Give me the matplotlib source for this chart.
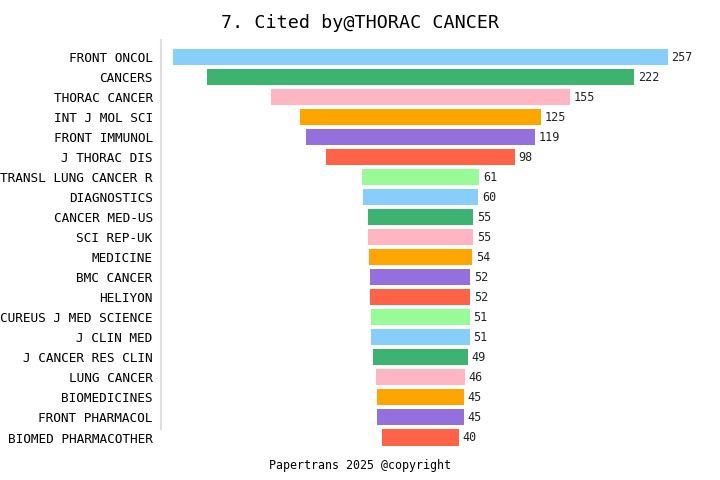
import matplotlib
matplotlib.use("Agg")
import matplotlib.pyplot as plt

plt.rcParams['font.family'] = ['DejaVu Sans Mono', 'DejaVu Sans']

# Dados
journals = ["FRONT ONCOL", "CANCERS", "THORAC CANCER", "INT J MOL SCI", "FRONT IMMUNOL",
            "J THORAC DIS", "TRANSL LUNG CANCER R", "DIAGNOSTICS", "CANCER MED-US",
            "SCI REP-UK", "MEDICINE", "BMC CANCER", "HELIYON", "CUREUS J MED SCIENCE",
            "J CLIN MED", "J CANCER RES CLIN", "LUNG CANCER", "BIOMEDICINES",
            "FRONT PHARMACOL", "BIOMED PHARMACOTHER"]
cites = [257, 222, 155, 125, 119, 98, 61, 60, 55, 55, 54, 52, 52, 51, 51, 49, 46, 45, 45, 40]
palette = ["#87CEFA", "#3CB371", "#FFB6C1", "#FFA500", "#9370DB", "#FF6347", "#98FB98"]

n = len(journals)
ypos = [n - 1 - i for i in range(n)]
cores = [palette[i % len(palette)] for i in range(n)]

fig = plt.figure(figsize=(7.2, 4.8), dpi=100)
ax = fig.add_axes([0.2236, 0.0635, 0.7208, 0.8532])

# Barras centradas (funil)
lefts = [-v / 2 for v in cites]
ax.barh(ypos, cites, left=lefts, height=0.8, color=cores)

for y, v in zip(ypos, cites):
    ax.text(v / 2 + 2, y, str(v), va="center", ha="left", fontsize=8.5, color="#222222")

lim = max(cites) / 2 * 1.05
ax.set_xlim(-lim, lim)
ax.set_ylim(-0.6, n - 1 + 0.85)
ax.set_yticks(ypos)
ax.set_yticklabels(journals, fontsize=9.2)
ax.tick_params(axis="y", length=0, pad=6)
ax.set_xticks([])

for s in ["top", "right", "bottom"]:
    ax.spines[s].set_visible(False)
ax.spines["left"].set_color("#dddddd")
ax.spines["left"].set_linewidth(1.5)
ax.spines["left"].set_bounds(0.4, n - 1 + 0.85)

fig.suptitle("7. Cited by@THORAC CANCER", fontsize=13.2, y=0.97)
fig.text(0.5, 0.022, "Papertrans 2025 @copyright", ha="center", fontsize=8.4)

fig.savefig("out.png", dpi=100)
